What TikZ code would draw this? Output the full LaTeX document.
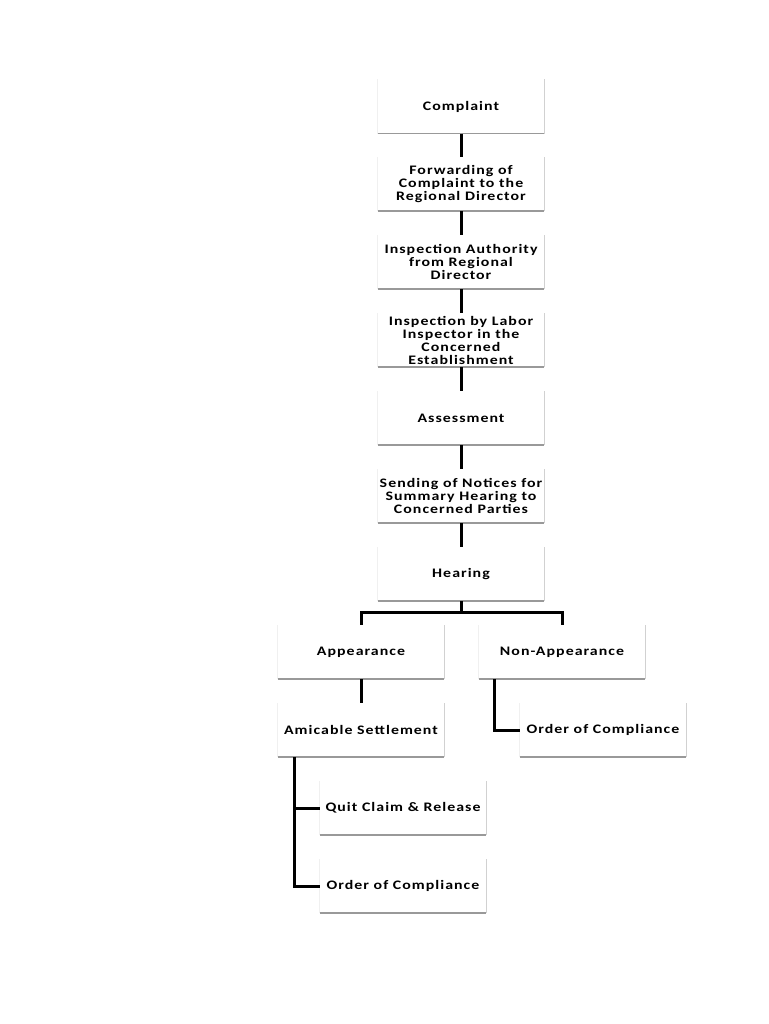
\documentclass[tikz,border=0pt]{standalone}
\usepackage{fontspec}
\newfontfamily\boxfont[LetterSpace=8,FakeStretch=1.22]{Carlito}
\begin{document}
\begin{tikzpicture}[x=1pt,y=-1pt,
  fbox/.style={fill=white,minimum width=166pt,minimum height=54pt,inner sep=0pt,align=center,
    font=\boxfont\bfseries\fontsize{13}{13}\selectfont},
  conn/.style={line width=3pt,black}]
\useasboundingbox[fill=white] (0,0) rectangle (768,1024);
\node[fbox] (c1) at (461,106.5) {Complaint};
\node[fbox] (c2) at (461,184) {Forwarding of\\Complaint to the\\Regional Director};
\node[fbox] (c3) at (461,262) {Inspection Authority\\from Regional\\Director};
\node[fbox] (c4) at (461,340) {Inspection by Labor\\Inspector in the\\Concerned\\Establishment};
\node[fbox] (c5) at (461,418) {Assessment};
\node[fbox] (c6) at (461,496) {Sending of Notices for\\Summary Hearing to\\Concerned Parties};
\node[fbox] (c7) at (461,574) {Hearing};
\node[fbox] (app) at (361,652) {Appearance};
\node[fbox] (non) at (562,652) {Non-Appearance};
\node[fbox] (ami) at (361,730) {Amicable Settlement};
\node[fbox] (ocr) at (603,730) {Order of Compliance};
\node[fbox] (qcr) at (403,808) {Quit Claim \& Release};
\node[fbox] (ocb) at (403,886) {Order of Compliance};
\foreach \n in {c1,c2,c3,c4,c5,c6,c7,app,non,ami,ocr,qcr,ocb}{
  \draw[black!6,line width=0.8pt] (\n.south west) -- (\n.north west);
  \draw[black!18,line width=0.8pt] (\n.south east) -- (\n.north east);
  \draw[black!40,line width=1.5pt] (\n.south west) -- (\n.south east);
}
\coordinate (bar) at (461,612);
\draw[conn] (c1) -- (c2);
\draw[conn] (c2) -- (c3);
\draw[conn] (c3) -- (c4);
\draw[conn] (c4) -- (c5);
\draw[conn] (c5) -- (c6);
\draw[conn] (c6) -- (c7);
\draw[conn] (c7.south) -- (c7.south |- bar);
\draw[conn] (app.north) -- (app.north |- bar) -- (non.north |- bar) -- (non.north);
\draw[conn] (app) -- (ami);
\draw[conn] ([xshift=16pt]non.south west) |- (ocr.west);
\draw[conn] ([xshift=17pt]ami.south west) |- (qcr.west);
\draw[conn] ([xshift=17pt]ami.south west) |- (ocb.west);
\end{tikzpicture}
\end{document}
